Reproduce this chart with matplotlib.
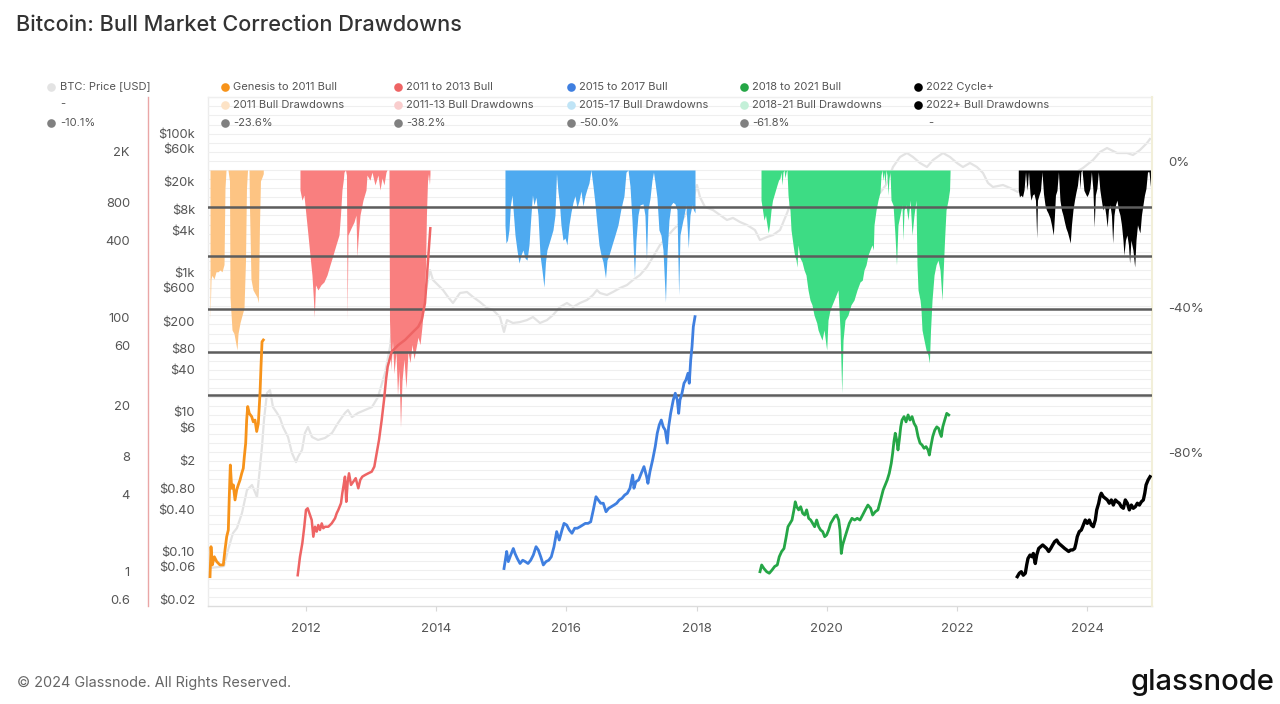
import matplotlib
matplotlib.use('Agg')
import matplotlib.pyplot as plt
from matplotlib.ticker import FixedLocator, NullLocator, MultipleLocator
from matplotlib.transforms import ScaledTranslation

plt.rcParams['font.family'] = ['Inter', 'DejaVu Sans']

# ---------------- data ----------------
title = "Bitcoin: Bull Market Correction Drawdowns"

# BTC price [USD] (decimal year, price)
btc_price = [
    (2010.526, 0.0574), (2010.649, 0.0593), (2010.741, 0.0613), (2010.802, 0.104), (2010.879, 0.182),
    (2010.940, 0.215), (2011.017, 0.353), (2011.094, 0.755), (2011.171, 0.891), (2011.248, 0.600),
    (2011.294, 1.61), (2011.324, 3.13), (2011.355, 7.63), (2011.401, 18.6), (2011.447, 20.5),
    (2011.493, 11.7), (2011.555, 9.61), (2011.601, 8.15), (2011.647, 6.05), (2011.724, 4.35),
    (2011.785, 2.56), (2011.847, 1.90), (2011.877, 2.25), (2011.939, 2.83), (2011.985, 4.97),
    (2012.031, 6.05), (2012.093, 4.35), (2012.185, 3.94), (2012.292, 4.21), (2012.400, 4.97),
    (2012.492, 6.91), (2012.599, 9.61), (2012.645, 10.6), (2012.707, 8.42), (2012.799, 9.61),
    (2012.907, 10.6), (2013.014, 11.7), (2013.106, 16.3), (2013.214, 36.0), (2013.291, 85.1),
    (2013.337, 222), (2013.398, 107), (2013.490, 90.8), (2013.583, 82.3), (2013.675, 115),
    (2013.767, 176), (2013.828, 474), (2013.905, 1081), (2013.951, 778), (2014.028, 659),
    (2014.105, 559), (2014.182, 444), (2014.258, 364), (2014.366, 506), (2014.473, 524),
    (2014.566, 444), (2014.673, 376), (2014.781, 308), (2014.873, 289), (2014.980, 229),
    (2015.042, 140), (2015.088, 207), (2015.180, 188), (2015.288, 194), (2015.395, 207),
    (2015.487, 229), (2015.595, 188), (2015.702, 207), (2015.795, 245), (2015.902, 319),
    (2016.009, 364), (2016.102, 319), (2016.209, 364), (2016.317, 402), (2016.409, 474),
    (2016.470, 559), (2016.516, 506), (2016.624, 474), (2016.716, 524), (2016.824, 597),
    (2016.931, 659), (2017.023, 778), (2017.131, 918), (2017.238, 1195), (2017.330, 1663),
    (2017.438, 2472), (2017.545, 3220), (2017.637, 4057), (2017.745, 5115), (2017.852, 7117),
    (2017.944, 10930), (2018.006, 17950), (2018.052, 12070), (2018.129, 8673), (2018.252, 7855),
    (2018.360, 6663), (2018.467, 5649), (2018.559, 6051), (2018.667, 5284), (2018.775, 4786),
    (2018.897, 4057), (2018.974, 2917), (2019.082, 3220), (2019.174, 3441), (2019.282, 4057),
    (2019.390, 7117), (2019.466, 10930), (2019.543, 12890), (2019.635, 10930), (2019.743, 9271),
    (2019.850, 8673), (2019.944, 7117), (2020.051, 7360), (2020.143, 9271), (2020.220, 4786),
    (2020.296, 6663), (2020.403, 8390), (2020.511, 9905), (2020.618, 10930), (2020.710, 11680),
    (2020.817, 13780), (2020.909, 17950), (2020.971, 24970), (2021.017, 32530), (2021.125, 45260),
    (2021.232, 51640), (2021.324, 45260), (2021.432, 37120), (2021.539, 32530), (2021.632, 40990),
    (2021.785, 51640), (2021.893, 45260), (2022.000, 37120), (2022.092, 32530), (2022.200, 37120),
    (2022.307, 32530), (2022.400, 26690), (2022.477, 19180), (2022.553, 16800), (2022.707, 17950),
    (2022.815, 16250), (2022.937, 14240), (2023.045, 16250), (2023.153, 21170), (2023.276, 24970),
    (2023.383, 23370), (2023.491, 24160), (2023.583, 22610), (2023.690, 21170), (2023.783, 24970),
    (2023.859, 28500), (2023.936, 31480), (2024.090, 40990), (2024.197, 53370), (2024.305, 60920),
    (2024.459, 51640), (2024.612, 51640), (2024.704, 48350), (2024.812, 57020), (2024.919, 71870),
    (2024.965, 82020),
]

# Cycle multiples (decimal year, multiple of cycle low)
genesis_2011 = [
    (2010.526, 0.906), (2010.541, 1.56), (2010.561, 1.12), (2010.592, 1.30), (2010.629, 1.19),
    (2010.679, 1.12), (2010.730, 1.12), (2010.756, 1.47), (2010.782, 1.87), (2010.807, 2.11),
    (2010.822, 3.86), (2010.838, 6.86), (2010.859, 4.50), (2010.884, 4.78), (2010.910, 3.64),
    (2010.936, 4.37), (2010.960, 4.78), (2010.987, 5.23), (2011.013, 5.90), (2011.037, 6.46),
    (2011.053, 7.98), (2011.074, 10.2), (2011.089, 15.5), (2011.105, 19.8), (2011.129, 17.5),
    (2011.166, 16.5), (2011.191, 15.0), (2011.217, 15.5), (2011.243, 12.6), (2011.268, 14.6),
    (2011.294, 25.2), (2011.309, 40.8), (2011.325, 64.1), (2011.345, 66.2),
]
bull_2011_2013 = [
    (2011.873, 0.93), (2011.908, 1.30), (2011.944, 1.66), (2011.974, 2.24), (2012.000, 3.04),
    (2012.026, 3.13), (2012.062, 2.77), (2012.088, 2.53), (2012.113, 1.87), (2012.139, 2.24),
    (2012.165, 2.05), (2012.189, 2.31), (2012.215, 2.11), (2012.242, 2.38), (2012.266, 2.18),
    (2012.292, 2.24), (2012.343, 2.24), (2012.395, 2.38), (2012.446, 2.61), (2012.472, 2.86),
    (2012.497, 3.04), (2012.538, 3.43), (2012.558, 4.11), (2012.579, 4.78), (2012.599, 5.55),
    (2012.619, 3.52), (2012.641, 5.07), (2012.661, 5.90), (2012.692, 4.78), (2012.727, 5.07),
    (2012.764, 5.40), (2012.804, 4.50), (2012.834, 5.23), (2012.865, 5.55), (2012.907, 5.72),
    (2012.957, 5.90), (2013.010, 6.08), (2013.050, 6.66), (2013.086, 8.49), (2013.122, 10.8),
    (2013.163, 15.5), (2013.199, 22.3), (2013.229, 32.1), (2013.255, 40.8), (2013.317, 53.6),
    (2013.418, 60.4), (2013.521, 66.2), (2013.624, 74.8), (2013.725, 84.2), (2013.778, 95.1),
    (2013.828, 129), (2013.879, 300), (2013.910, 502),
]
bull_2015_2017 = [
    (2015.042, 1.05), (2015.062, 1.22), (2015.083, 1.43), (2015.108, 1.19), (2015.145, 1.34),
    (2015.185, 1.51), (2015.211, 1.38), (2015.246, 1.26), (2015.288, 1.15), (2015.329, 1.22),
    (2015.369, 1.19), (2015.411, 1.15), (2015.452, 1.22), (2015.492, 1.34), (2015.534, 1.56),
    (2015.569, 1.47), (2015.606, 1.30), (2015.646, 1.12), (2015.687, 1.19), (2015.729, 1.22),
    (2015.769, 1.30), (2015.810, 1.56), (2015.851, 2.05), (2015.891, 1.76), (2015.933, 2.11),
    (2015.964, 2.38), (2016.005, 2.31), (2016.045, 2.11), (2016.086, 1.99), (2016.128, 2.18),
    (2016.168, 2.18), (2016.209, 2.24), (2016.251, 2.31), (2016.291, 2.38), (2016.332, 2.38),
    (2016.374, 2.45), (2016.414, 3.04), (2016.455, 3.86), (2016.490, 3.64), (2016.527, 3.43),
    (2016.567, 3.43), (2016.609, 2.94), (2016.650, 3.13), (2016.690, 3.22), (2016.732, 3.32),
    (2016.773, 3.43), (2016.813, 3.64), (2016.854, 3.75), (2016.896, 3.98), (2016.936, 4.11),
    (2016.977, 4.50), (2017.018, 5.72), (2017.038, 4.50), (2017.069, 5.07), (2017.110, 5.23),
    (2017.150, 5.90), (2017.192, 6.66), (2017.233, 5.55), (2017.253, 4.92), (2017.284, 6.08),
    (2017.325, 7.52), (2017.365, 9.57), (2017.396, 12.2), (2017.427, 14.2), (2017.458, 15.5),
    (2017.488, 13.7), (2017.519, 12.9), (2017.550, 10.2), (2017.571, 13.7), (2017.602, 17.5),
    (2017.642, 22.3), (2017.673, 25.2), (2017.704, 22.3), (2017.725, 17.5), (2017.745, 22.3),
    (2017.776, 25.2), (2017.807, 30.2), (2017.837, 32.1), (2017.868, 36.2), (2017.888, 30.2),
    (2017.910, 46.1), (2017.930, 58.6), (2017.950, 84.2), (2017.976, 101),
]
bull_2018_2021 = [
    (2018.974, 0.991), (2019.000, 1.12), (2019.035, 1.05), (2019.077, 0.991), (2019.117, 0.964),
    (2019.158, 1.02), (2019.200, 1.09), (2019.240, 1.12), (2019.270, 1.30), (2019.307, 1.43),
    (2019.343, 1.51), (2019.373, 1.82), (2019.404, 2.24), (2019.435, 2.38), (2019.466, 2.53),
    (2019.496, 3.04), (2019.516, 3.52), (2019.538, 3.22), (2019.568, 3.04), (2019.599, 3.22),
    (2019.630, 2.86), (2019.661, 2.77), (2019.691, 3.04), (2019.722, 2.61), (2019.753, 2.53),
    (2019.784, 2.38), (2019.814, 2.24), (2019.845, 2.53), (2019.876, 2.24), (2019.906, 2.11),
    (2019.937, 2.05), (2019.968, 1.87), (2019.998, 1.93), (2020.029, 2.11), (2020.060, 2.38),
    (2020.091, 2.53), (2020.121, 2.69), (2020.152, 2.77), (2020.183, 2.53), (2020.203, 2.11),
    (2020.223, 1.38), (2020.244, 1.61), (2020.275, 1.82), (2020.306, 2.05), (2020.346, 2.38),
    (2020.387, 2.61), (2020.428, 2.53), (2020.468, 2.61), (2020.510, 2.53), (2020.551, 2.77),
    (2020.591, 3.04), (2020.632, 3.32), (2020.674, 3.13), (2020.705, 2.77), (2020.745, 2.94),
    (2020.786, 3.04), (2020.827, 3.64), (2020.867, 4.37), (2020.898, 4.78), (2020.929, 5.23),
    (2020.960, 5.90), (2020.991, 7.08), (2021.012, 8.49), (2021.032, 10.5), (2021.052, 12.2),
    (2021.074, 10.8), (2021.094, 9.01), (2021.114, 10.8), (2021.136, 13.7), (2021.156, 15.5),
    (2021.187, 16.5), (2021.218, 15.0), (2021.249, 17.0), (2021.279, 15.5), (2021.310, 16.5),
    (2021.341, 14.6), (2021.372, 13.7), (2021.402, 11.5), (2021.433, 10.2), (2021.464, 9.86),
    (2021.495, 9.29), (2021.525, 9.57), (2021.556, 9.01), (2021.576, 8.22), (2021.598, 9.57),
    (2021.628, 11.5), (2021.659, 12.9), (2021.690, 13.7), (2021.720, 13.3), (2021.740, 12.2),
    (2021.760, 11.5), (2021.782, 13.7), (2021.812, 15.5), (2021.843, 17.5), (2021.874, 17.0),
]
cycle_2022 = [
    (2022.927, 0.906), (2022.958, 0.964), (2022.988, 0.991), (2023.019, 0.93), (2023.050, 0.964),
    (2023.071, 1.12), (2023.091, 1.26), (2023.122, 1.34), (2023.153, 1.30), (2023.173, 1.38),
    (2023.203, 1.15), (2023.225, 1.34), (2023.255, 1.51), (2023.286, 1.56), (2023.317, 1.61),
    (2023.347, 1.56), (2023.378, 1.51), (2023.409, 1.43), (2023.440, 1.51), (2023.470, 1.61),
    (2023.501, 1.71), (2023.532, 1.76), (2023.563, 1.66), (2023.593, 1.61), (2023.624, 1.56),
    (2023.655, 1.51), (2023.686, 1.47), (2023.716, 1.43), (2023.747, 1.47), (2023.778, 1.47),
    (2023.808, 1.51), (2023.828, 1.66), (2023.848, 1.87), (2023.879, 2.05), (2023.910, 2.11),
    (2023.941, 2.31), (2023.971, 2.53), (2024.002, 2.38), (2024.033, 2.53), (2024.064, 2.31),
    (2024.094, 2.24), (2024.125, 2.53), (2024.147, 3.04), (2024.177, 3.43), (2024.197, 3.86),
    (2024.217, 4.11), (2024.248, 3.86), (2024.279, 3.75), (2024.310, 3.64), (2024.340, 3.43),
    (2024.371, 3.64), (2024.402, 3.32), (2024.433, 3.64), (2024.463, 3.52), (2024.494, 3.43),
    (2024.525, 3.22), (2024.556, 3.13), (2024.586, 3.64), (2024.617, 3.43), (2024.648, 3.04),
    (2024.679, 3.32), (2024.709, 3.13), (2024.740, 3.22), (2024.771, 3.43), (2024.802, 3.32),
    (2024.832, 3.52), (2024.863, 3.64), (2024.885, 4.11), (2024.905, 4.78), (2024.936, 5.23),
    (2024.966, 5.55),
]

# Drawdowns from cycle high [%] (decimal year, drawdown)
dd_2011 = [
    (2010.526, -41), (2010.541, -30), (2010.556, -29), (2010.587, -30), (2010.618, -28),
    (2010.649, -28), (2010.679, -27.5), (2010.710, -28), (2010.741, -26), (2010.756, -5),
    (2010.772, 0), (2010.802, 0), (2010.825, -3), (2010.833, -35), (2010.864, -44),
    (2010.894, -45), (2010.925, -48), (2010.940, -49.5), (2010.956, -45), (2010.987, -42),
    (2011.017, -40), (2011.048, -38), (2011.071, -25), (2011.086, -5), (2011.102, 0),
    (2011.125, 0), (2011.132, -10), (2011.155, -30), (2011.186, -33), (2011.217, -34),
    (2011.248, -35), (2011.268, -36.5), (2011.286, -15), (2011.301, -3), (2011.324, -2),
    (2011.344, -1),
]
dd_2011_13 = [
    (2011.908, -5.5), (2011.939, -8.3), (2011.969, -6.9), (2012.000, -12.4), (2012.031, -17.9),
    (2012.061, -23.4), (2012.092, -28.9), (2012.115, -35.8), (2012.128, -40.4), (2012.146, -31.6),
    (2012.184, -33.0), (2012.230, -31.6), (2012.276, -30.8), (2012.323, -28.9), (2012.369, -26.1),
    (2012.415, -23.4), (2012.461, -20.6), (2012.507, -17.9), (2012.530, -12.4), (2012.553, -5.5),
    (2012.573, -2.8), (2012.584, -0.6), (2012.607, 0), (2012.622, -1.4), (2012.633, -41.3),
    (2012.645, -17.9), (2012.692, -16.0), (2012.738, -14.3), (2012.768, -12.4), (2012.784, -23.9),
    (2012.799, -19.3), (2012.830, -12.4), (2012.876, -8.3), (2012.922, -5.5), (2012.937, -1.4),
    (2012.983, -2.8), (2013.014, -0.6), (2013.060, -4.1), (2013.106, -1.4), (2013.137, -5.5),
    (2013.168, -2.2), (2013.198, -4.1), (2013.229, -0.6), (2013.245, 0), (2013.275, 0),
    (2013.283, -41.3), (2013.306, -55), (2013.329, -47), (2013.352, -56), (2013.383, -50),
    (2013.406, -62), (2013.429, -55), (2013.452, -70.7), (2013.475, -58), (2013.506, -52),
    (2013.536, -60), (2013.567, -50), (2013.598, -53), (2013.629, -48), (2013.659, -52),
    (2013.690, -49), (2013.721, -46), (2013.752, -48), (2013.782, -43), (2013.813, -36),
    (2013.836, -27), (2013.851, -12), (2013.867, -3), (2013.882, -1), (2013.897, -4),
    (2013.905, -1),
]
dd_2015_17 = [
    (2015.057, -15.1), (2015.072, -20.1), (2015.095, -19.3), (2015.118, -16.5), (2015.141, -9.6),
    (2015.165, -6.9), (2015.188, -12.4), (2015.211, -17.9), (2015.241, -22.0), (2015.272, -25.6),
    (2015.303, -23.4), (2015.333, -22.0), (2015.364, -24.2), (2015.395, -24.8), (2015.426, -20.6),
    (2015.456, -12.4), (2015.479, -6.9), (2015.502, -9.6), (2015.533, -7.5), (2015.564, -12.4),
    (2015.595, -23.4), (2015.625, -27.5), (2015.656, -32.2), (2015.679, -25.3), (2015.702, -22.0),
    (2015.748, -19.3), (2015.794, -16.5), (2015.825, -12.4), (2015.848, -1.0), (2015.871, -6.0),
    (2015.894, -9.3), (2015.917, -15.1), (2015.948, -19.3), (2015.979, -18.7), (2016.009, -20.6),
    (2016.040, -15.1), (2016.071, -11.6), (2016.102, -8.9), (2016.132, -7.1), (2016.163, -10.3),
    (2016.194, -8.5), (2016.224, -5.8), (2016.255, -9.9), (2016.286, -7.1), (2016.317, -5.2),
    (2016.347, -3.6), (2016.378, 0), (2016.409, -4.4), (2016.440, -9.3), (2016.470, -15.1),
    (2016.501, -20.6), (2016.532, -23.4), (2016.563, -25.3), (2016.601, -29.7), (2016.624, -24.8),
    (2016.655, -23.4), (2016.701, -20.6), (2016.747, -17.9), (2016.793, -15.1), (2016.839, -10.6),
    (2016.885, -7.1), (2016.916, -0.6), (2016.947, 0), (2016.977, -4.4), (2017.008, -13.8),
    (2017.046, -29.4), (2017.069, -19.3), (2017.100, -12.4), (2017.131, -9.6), (2017.177, -9.3),
    (2017.207, -12.4), (2017.230, -24.8), (2017.253, -11.0), (2017.284, -7.9), (2017.315, -2.8),
    (2017.338, -0.6), (2017.361, -3.4), (2017.391, -7.5), (2017.422, -16.5), (2017.453, -17.9),
    (2017.484, -22.0), (2017.522, -36.3), (2017.545, -23.4), (2017.576, -13.8), (2017.607, -9.6),
    (2017.637, -8.9), (2017.668, -9.3), (2017.699, -11.0), (2017.725, -34.4), (2017.745, -17.9),
    (2017.776, -15.1), (2017.807, -12.4), (2017.837, -9.6), (2017.873, -21.5), (2017.899, -12.4),
    (2017.930, -9.6), (2017.953, -11.0), (2017.976, -11.8),
]
dd_2018_21 = [
    (2018.990, -8.3), (2019.013, -11.0), (2019.036, -13.8), (2019.059, -12.4), (2019.082, -15.1),
    (2019.102, -17.3), (2019.121, -15.1), (2019.144, -11.0), (2019.167, -8.3), (2019.190, -6.9),
    (2019.213, -5.5), (2019.236, -4.1), (2019.259, -2.8), (2019.282, -2.2), (2019.297, -0.6),
    (2019.313, -4.1), (2019.328, -0.6), (2019.343, 0), (2019.359, -2.2), (2019.374, -0.6),
    (2019.389, 0), (2019.405, -6.9), (2019.420, -9.6), (2019.435, -11.0), (2019.451, -16.5),
    (2019.482, -20.6), (2019.505, -23.4), (2019.528, -24.8), (2019.543, -26.7), (2019.558, -20.6),
    (2019.589, -24.2), (2019.620, -25.3), (2019.651, -27.5), (2019.681, -28.9), (2019.712, -33.0),
    (2019.743, -35.8), (2019.773, -37.1), (2019.804, -39.9), (2019.846, -42.1), (2019.866, -44.0),
    (2019.896, -45.4), (2019.927, -46.8), (2019.958, -44.0), (2019.988, -48.1), (2019.999, -49.5),
    (2020.019, -41.3), (2020.050, -38.5), (2020.081, -37.1), (2020.111, -35.8), (2020.142, -34.4),
    (2020.173, -33.0), (2020.204, -44.0), (2020.230, -61.3), (2020.250, -46.8), (2020.280, -41.3),
    (2020.326, -39.9), (2020.372, -37.1), (2020.418, -35.8), (2020.465, -33.0), (2020.511, -30.8),
    (2020.546, -30.3), (2020.572, -27.5), (2020.603, -26.1), (2020.634, -23.4), (2020.664, -22.0),
    (2020.695, -20.6), (2020.715, -22.0), (2020.726, -15.1), (2020.757, -11.0), (2020.787, -8.3),
    (2020.818, -6.1), (2020.833, -1.4), (2020.849, 0), (2020.864, -2.8), (2020.879, -0.6),
    (2020.895, -4.1), (2020.910, 0), (2020.925, -1.4), (2020.941, -6.9), (2020.956, -2.2),
    (2020.972, -0.6), (2020.987, -8.3), (2021.018, -9.6), (2021.048, -17.9), (2021.071, -26.1),
    (2021.094, -15.1), (2021.125, -12.4), (2021.156, -9.6), (2021.171, -19.3), (2021.187, -11.0),
    (2021.217, -9.6), (2021.248, -13.8), (2021.279, -8.3), (2021.310, -17.9), (2021.340, -12.4),
    (2021.371, -8.3), (2021.386, -26.1), (2021.402, -33.0), (2021.433, -35.8), (2021.448, -38.5),
    (2021.463, -44.0), (2021.494, -46.8), (2021.525, -49.5), (2021.556, -50.9), (2021.576, -53.1),
    (2021.594, -44.0), (2021.617, -35.8), (2021.648, -28.9), (2021.679, -26.1), (2021.709, -24.8),
    (2021.740, -27.5), (2021.771, -35.8), (2021.786, -28.9), (2021.809, -19.3), (2021.832, -11.0),
    (2021.863, -8.3), (2021.886, -5.5), (2021.894, -0.6),
]
dd_2022 = [
    (2022.942, -5.5), (2022.960, -7.4), (2022.983, -6.9), (2023.007, -7.4), (2023.030, -5.5),
    (2023.053, -0.5), (2023.076, -5.6), (2023.099, -0.5), (2023.122, -6.5), (2023.137, -8.3),
    (2023.160, -6.9), (2023.183, -6.5), (2023.206, -8.3), (2023.225, -18.7), (2023.237, -8.3),
    (2023.260, -6.9), (2023.283, -5.6), (2023.306, -0.5), (2023.329, -6.5), (2023.352, -9.6),
    (2023.375, -11.0), (2023.398, -11.8), (2023.429, -13.2), (2023.452, -15.1), (2023.480, -17.9),
    (2023.498, -12.4), (2023.513, -6.9), (2023.536, -5.6), (2023.559, -0.5), (2023.582, -8.3),
    (2023.605, -11.0), (2023.628, -12.4), (2023.651, -14.3), (2023.674, -16.0), (2023.697, -17.1),
    (2023.721, -18.7), (2023.740, -20.1), (2023.759, -15.1), (2023.782, -11.0), (2023.805, -8.3),
    (2023.828, -6.1), (2023.851, -4.2), (2023.874, -0.5), (2023.889, -5.1), (2023.904, -0.5),
    (2023.920, 0), (2023.935, -2.6), (2023.950, -5.6), (2023.974, -6.5), (2023.996, -7.3),
    (2024.019, -6.5), (2024.042, -5.1), (2024.065, -0.5), (2024.088, -5.3), (2024.108, -15.7),
    (2024.126, -6.9), (2024.149, -5.1), (2024.172, -0.5), (2024.195, -5.5), (2024.218, -8.3),
    (2024.241, -11.0), (2024.264, -9.6), (2024.287, -12.4), (2024.307, -15.7), (2024.327, -11.0),
    (2024.350, -9.6), (2024.373, -12.4), (2024.392, -20.1), (2024.412, -12.4), (2024.435, -9.6),
    (2024.458, -8.3), (2024.481, -11.0), (2024.504, -12.4), (2024.527, -15.1), (2024.550, -19.3),
    (2024.565, -23.4), (2024.588, -19.3), (2024.611, -17.9), (2024.634, -20.6), (2024.652, -25.6),
    (2024.672, -19.3), (2024.703, -22.0), (2024.730, -26.7), (2024.750, -19.3), (2024.773, -15.1),
    (2024.796, -16.5), (2024.811, -17.3), (2024.834, -12.4), (2024.857, -9.6), (2024.880, -6.9),
    (2024.903, -5.1), (2024.927, -0.5), (2024.950, -0.5), (2024.970, -4.1), (2024.991, -7.4),
]

fib_levels = [-10.1, -23.6, -38.2, -50.0, -61.8]

year_ticks = [2012, 2014, 2016, 2018, 2020, 2022, 2024]
price_ticks = [0.02, 0.06, 0.10, 0.40, 0.80, 2, 6, 10, 40, 80, 200, 600, 1000, 4000, 8000, 20000, 60000, 100000]
price_labels = ['$0.02', '$0.06', '$0.10', '$0.40', '$0.80', '$2', '$6', '$10', '$40', '$80',
                '$200', '$600', '$1k', '$4k', '$8k', '$20k', '$60k', '$100k']
mult_ticks = [0.6, 1, 4, 8, 20, 60, 100, 400, 800, 2000]
mult_labels = ['0.6', '1', '4', '8', '20', '60', '100', '400', '800', '2K']
pct_ticks = [0, -40, -80, -120]
pct_labels = ['0%', '-40%', '-80%', '-120%']

cycle_names = ['Genesis to 2011 Bull', '2011 to 2013 Bull', '2015 to 2017 Bull', '2018 to 2021 Bull', '2022 Cycle+']
dd_names = ['2011 Bull Drawdowns', '2011-13 Bull Drawdowns', '2015-17 Bull Drawdowns',
            '2018-21 Bull Drawdowns', '2022+ Bull Drawdowns']

# ---------------- styles ----------------
line_colors = ['#f7931a', '#ee6464', '#3f7fe0', '#25a646', '#000000']
fill_colors = ['#fdc483', '#f97f7f', '#4eaaf0', '#3ddc84', '#000000']
legend_dd_colors = ['#fde3c6', '#f9cdcd', '#bfe4f6', '#c3f0d8', '#000000']
line_widths = [2.0, 1.8, 2.0, 2.0, 2.4]
cycles = [genesis_2011, bull_2011_2013, bull_2015_2017, bull_2018_2021, cycle_2022]
drawdowns = [dd_2011, dd_2011_13, dd_2015_17, dd_2018_21, dd_2022]

W, H = 1280, 704
L, R, T, B = 208, 1152, 97, 606
fig = plt.figure(figsize=(W / 100, H / 100), dpi=100)
ax = fig.add_axes([L / W, (H - B) / H, (R - L) / W, (B - T) / H])
ax_dd = ax.twinx()
ax_m = ax.twinx()

tick_col = '#555555'

# price (gray) on $ axis
ax.set_yscale('log')
ax.plot([a for a, b in btc_price], [b for a, b in btc_price], color='#e3e3e3', lw=1.6, zorder=2)
ax.set_ylim(0.01636, 328500)
ax.set_xlim(2010.495, 2024.996)
ax.yaxis.set_major_locator(FixedLocator(price_ticks))
ax.yaxis.set_minor_locator(NullLocator())
ax.set_yticklabels(price_labels)
ax.tick_params(axis='y', length=0, pad=9.4, labelsize=9.3, labelcolor=tick_col)
ax.set_xticks(year_ticks)
ax.set_xticklabels([str(y) for y in year_ticks])
ax.tick_params(axis='x', length=3.6, color='#d8d8d8', pad=9, labelsize=9.5, labelcolor=tick_col)
ax.spines['right'].set_visible(False)
ax.spines['top'].set_color('#ececec')
ax.spines['bottom'].set_color('#dcdcdc')
ax.spines['left'].set_color('#ececec')
for s in ax.spines.values():
    s.set_linewidth(1.0)

# drawdown axis
ax_dd.set_ylim(-119.94, 20.08)
ax_dd.yaxis.set_major_locator(FixedLocator(pct_ticks))
ax_dd.set_yticklabels(pct_labels)
ax_dd.yaxis.set_minor_locator(MultipleLocator(2.5))
ax_dd.tick_params(axis='y', which='both', length=0, pad=11.5, labelsize=9.5, labelcolor=tick_col)
ax_dd.set_axisbelow(True)
ax_dd.grid(True, which='both', axis='y', color='#efefef', lw=0.8)
for s in ['left', 'top', 'bottom']:
    ax_dd.spines[s].set_visible(False)
ax_dd.spines['right'].set_color('#f2efd9')
ax_dd.spines['right'].set_linewidth(1.5)
for dd, fc in zip(drawdowns, fill_colors):
    ax_dd.fill_between([a for a, b in dd], [b for a, b in dd], 0, color=fc, lw=0, zorder=2)
for lv in fib_levels:
    ax_dd.axhline(lv, color='#5d5d5d', lw=1.8, zorder=3)

# multiple axis (far left)
ax_m.set_yscale('log')
for c, col, lw in zip(cycles, line_colors, line_widths):
    ax_m.plot([a for a, b in c], [b for a, b in c], color=col, lw=lw, zorder=4,
              solid_joinstyle='round')
ax_m.set_ylim(0.5322, 5421)
ax_m.yaxis.tick_left()
ax_m.yaxis.set_label_position('left')
ax_m.yaxis.set_major_locator(FixedLocator(mult_ticks))
ax_m.yaxis.set_minor_locator(NullLocator())
ax_m.set_yticklabels(mult_labels)
ax_m.tick_params(axis='y', which='both', length=0, pad=13, labelsize=9.3, labelcolor=tick_col,
                 left=True, labelleft=True, right=False, labelright=False)
for s in ['right', 'top', 'bottom']:
    ax_m.spines[s].set_visible(False)
ax_m.spines['left'].set_visible(True)
ax_m.spines['left'].set_position(('outward', 43.2))
ax_m.spines['left'].set_color('#eaa6a6')
ax_m.spines['left'].set_linewidth(1.0)
ax_m.set_xlim(2010.495, 2024.996)

# overlay for title, legend, footer
ov = fig.add_axes([0, 0, 1, 1])
ov.set_xlim(0, W)
ov.set_ylim(H, 0)
ov.axis('off')
ov.text(16, 25, title, fontsize=15.6, color='#333333', va='center', ha='left', fontweight='medium')

leg_fs = 8.0
leg_col = '#555555'
col_x = [225, 398, 571, 744, 918]
ov.plot([51], [86.5], 'o', ms=6.2, color='#e3e3e3', mec='none')
ov.text(60, 86.5, 'BTC: Price [USD]', fontsize=leg_fs, color=leg_col, va='center')
ov.text(60, 104.5, '-', fontsize=leg_fs, color=leg_col, va='center')
ov.plot([51], [123], 'o', ms=6.2, color='#808080', mec='none')
ov.text(60, 123, '-10.1%', fontsize=leg_fs, color=leg_col, va='center')
for i, x in enumerate(col_x):
    ov.plot([x], [86.5], 'o', ms=6.2, color=line_colors[i], mec='none')
    ov.text(x + 8, 86.5, cycle_names[i], fontsize=leg_fs, color=leg_col, va='center')
    ov.plot([x], [104.5], 'o', ms=6.2, color=legend_dd_colors[i], mec='none')
    ov.text(x + 8, 104.5, dd_names[i], fontsize=leg_fs, color=leg_col, va='center')
    if i < 4:
        ov.plot([x], [123], 'o', ms=6.2, color='#808080', mec='none')
        ov.text(x + 8, 123, f"{fib_levels[i + 1]:.1f}%", fontsize=leg_fs, color=leg_col, va='center')
    else:
        ov.text(x + 10, 123, '-', fontsize=leg_fs, color=leg_col, va='center')

ov.text(17, 683, '\u00a9 2024 Glassnode. All Rights Reserved.', fontsize=10.4, color='#666666',
        va='center', ha='left')
ov.text(1275, 683, 'glassnode', fontsize=21, color='#111111', va='center', ha='right',
        fontweight='medium')

fig.canvas.draw()
shift = ScaledTranslation(0, 0.08, fig.dpi_scale_trans)
for lab in ax_dd.get_yticklabels():
    lab.set_transform(lab.get_transform() + shift)

fig.savefig('out.png', dpi=100)
